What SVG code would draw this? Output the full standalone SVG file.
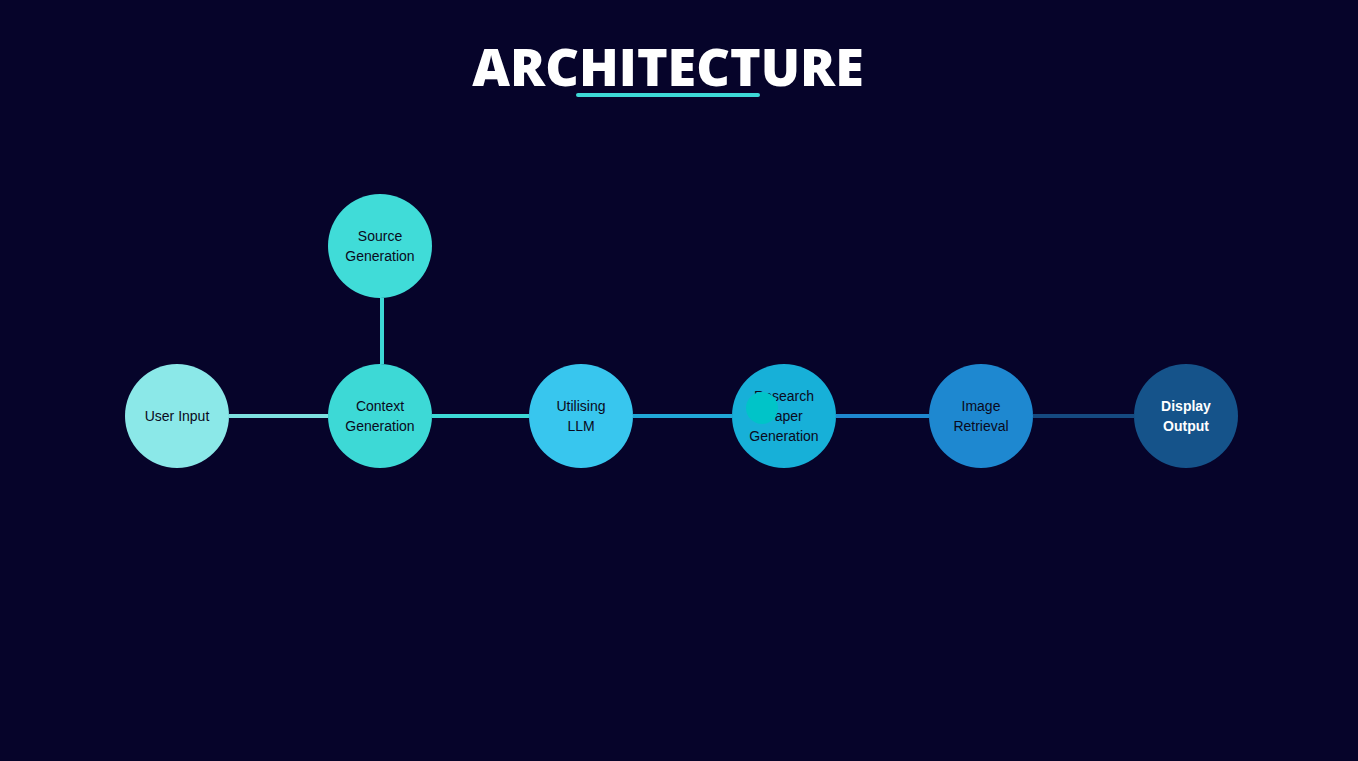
<svg xmlns="http://www.w3.org/2000/svg" width="1358" height="761" viewBox="0 0 1358 761">
<style>
text{font-family:"Liberation Sans",Arial,sans-serif;font-size:14px;text-anchor:middle;fill:#0a0a20}
.c{stroke:none}
.l{stroke-width:4;fill:none}
</style>
<rect width="1358" height="761" fill="#06042a"/>
<text x="668" y="86" style="font-family:'Open Sans','Liberation Sans',sans-serif;font-size:52px;font-weight:800;fill:#fff">ARCHITECTURE</text>
<rect x="576" y="93" width="184" height="4" rx="2" fill="#3dd9d6"/>
<g id="connectors">
<line class="l" x1="229" y1="416" x2="328" y2="416" stroke="#7de0e0"/>
<line class="l" x1="382" y1="298" x2="382" y2="364" stroke="#3dd9d6"/>
<line class="l" x1="432" y1="416" x2="529" y2="416" stroke="#3dd9d6"/>
<line class="l" x1="633" y1="416" x2="732" y2="416" stroke="#20a8d8"/>
<line class="l" x1="836" y1="416" x2="929" y2="416" stroke="#1e88d0"/>
<line class="l" x1="1033" y1="416" x2="1134" y2="416" stroke="#154a80"/>
</g>
<g id="user"><circle cx="177" cy="416" r="52" fill="#8be8e8"/><text x="177" y="421">User Input</text></g>
<g id="source"><circle cx="380" cy="246" r="52" fill="#40dcd8"/><text x="380" y="241">Source</text><text x="380" y="261">Generation</text></g>
<g id="context"><circle cx="380" cy="416" r="52" fill="#3dd9d6"/><text x="380" y="411">Context</text><text x="380" y="431">Generation</text></g>
<g id="llm"><circle cx="581" cy="416" r="52" fill="#38c6ee"/><text x="581" y="411">Utilising</text><text x="581" y="431">LLM</text></g>
<g id="research"><circle cx="784" cy="416" r="52" fill="#17b0d8"/><text x="784" y="401">Research</text><text x="784" y="421">Paper</text><text x="784" y="441">Generation</text><circle cx="762" cy="408" r="16" fill="#00c4c8"/></g>
<g id="image"><circle cx="981" cy="416" r="52" fill="#1e88d0"/><text x="981" y="411">Image</text><text x="981" y="431">Retrieval</text></g>
<g id="display"><circle cx="1186" cy="416" r="52" fill="#15538a"/><text x="1186" y="411" style="fill:#fff;font-weight:bold">Display</text><text x="1186" y="431" style="fill:#fff;font-weight:bold">Output</text></g>
</svg>
